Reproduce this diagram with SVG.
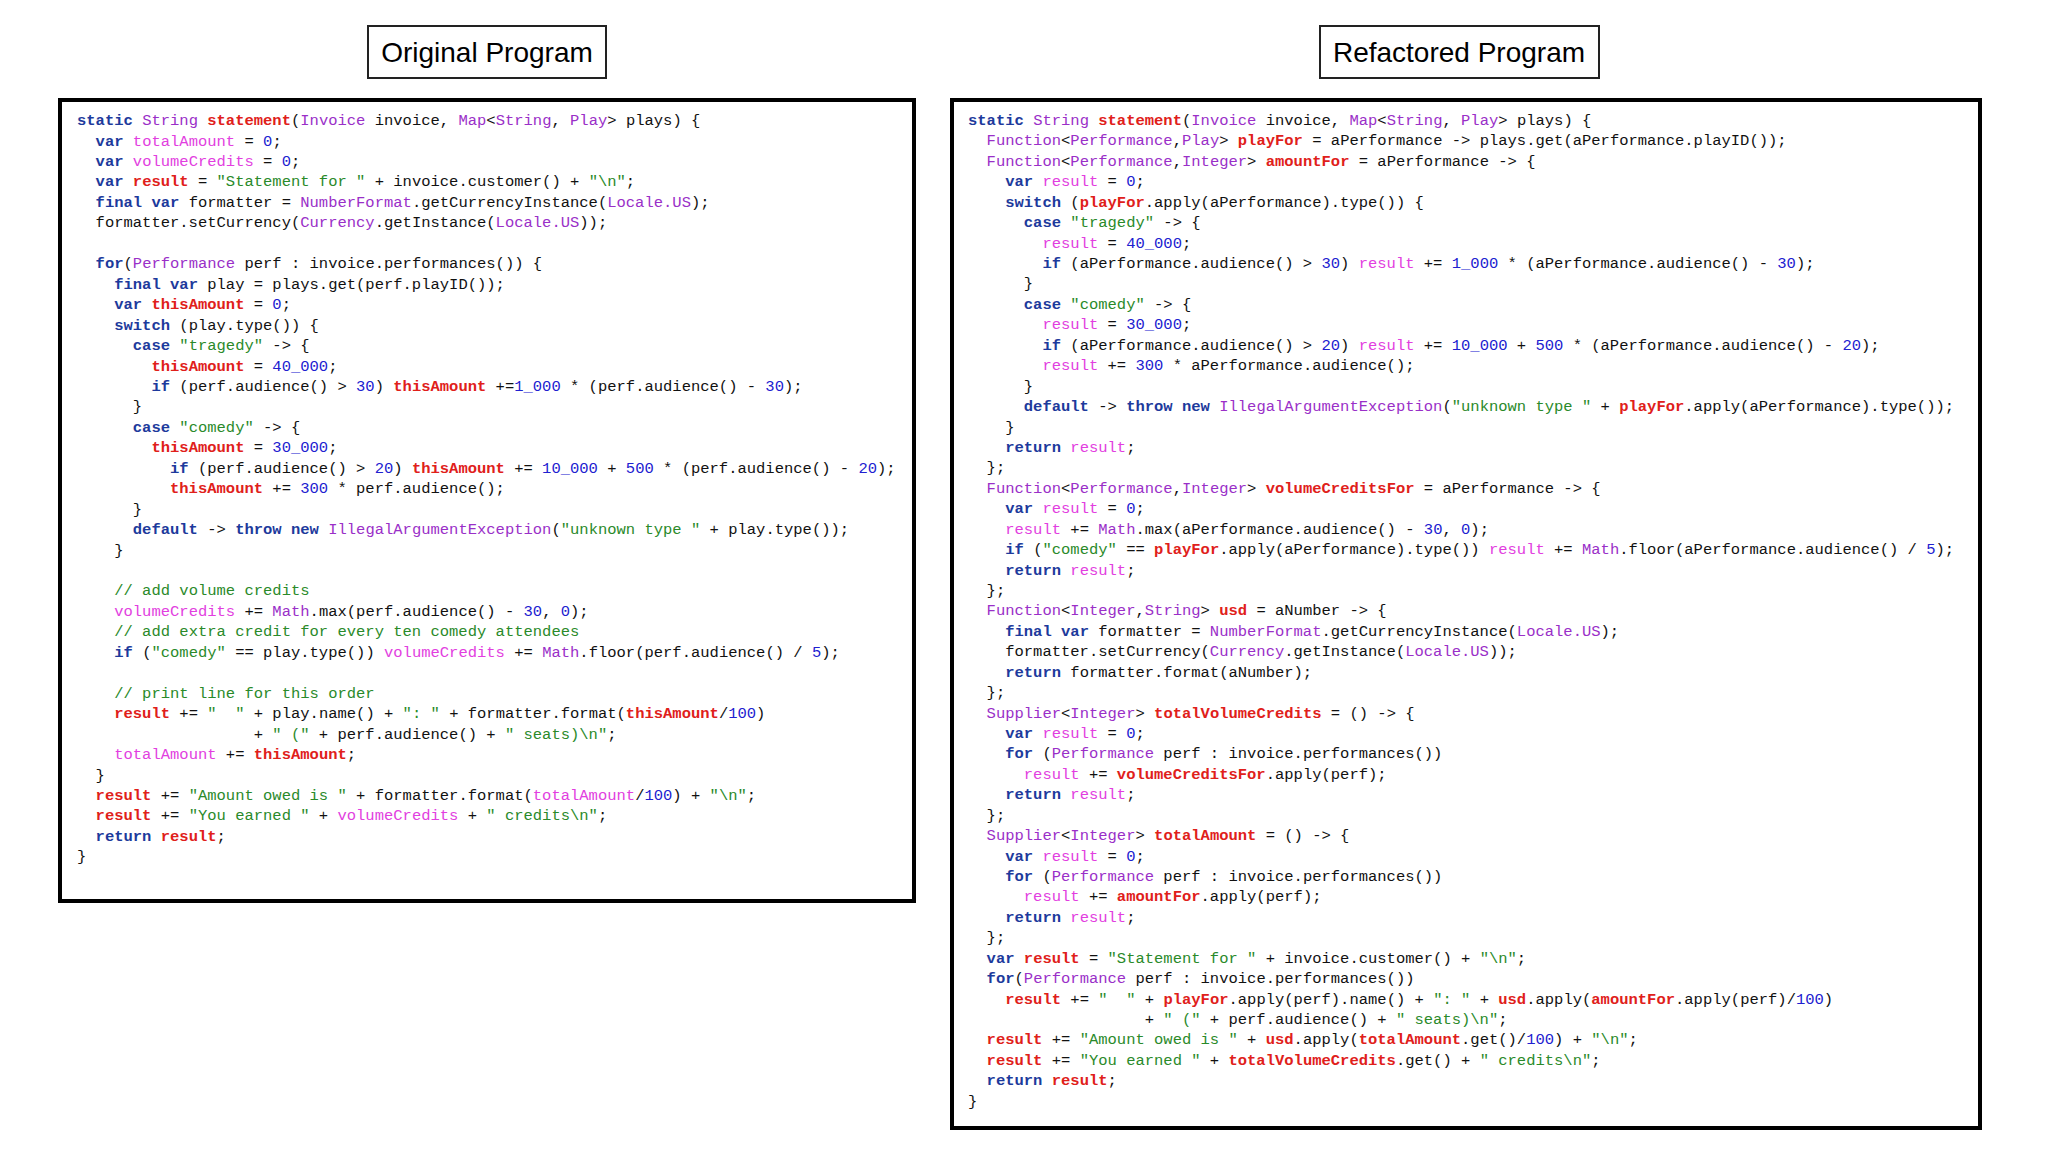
<svg xmlns="http://www.w3.org/2000/svg" width="2048" height="1152" viewBox="0 0 2048 1152">
<style>
.title{font-family:"Liberation Sans",Arial,sans-serif;font-size:28px;fill:#000;text-anchor:middle}
.tbox{fill:#fff;stroke:#222;stroke-width:2}
.cbox{fill:#fff;stroke:#000;stroke-width:4}
.code text{font-family:"Liberation Mono","DejaVu Sans Mono",monospace;font-size:15.5px;fill:#111;white-space:pre}
.k{fill:#1d3a9c;font-weight:bold}
.t{fill:#9a2fc8}
.r{fill:#e0201a;font-weight:bold}
.p{fill:#e23ee0}
.s{fill:#2a8a2a}
.n{fill:#2020d0}
.c{fill:#2a8a2a}
</style>
<rect width="2048" height="1152" fill="#fff"/>
<g id="title-original"><rect class="tbox" x="368" y="26" width="238" height="52"/><text class="title" x="487" y="62">Original Program</text></g>
<g id="title-refactored"><rect class="tbox" x="1320" y="26" width="279" height="52"/><text class="title" x="1459" y="62">Refactored Program</text></g>
<g id="original-code">
<rect class="cbox" x="60" y="100" width="854" height="801"/>
<g class="code" xml:space="preserve">
<text x="77" y="125"><tspan class="k">static</tspan> <tspan class="t">String</tspan> <tspan class="r">statement</tspan>(<tspan class="t">Invoice</tspan> invoice, <tspan class="t">Map</tspan>&lt;<tspan class="t">String</tspan>, <tspan class="t">Play</tspan>&gt; plays) {</text>
<text x="77" y="145.5">  <tspan class="k">var</tspan> <tspan class="p">totalAmount</tspan> = <tspan class="n">0</tspan>;</text>
<text x="77" y="166">  <tspan class="k">var</tspan> <tspan class="p">volumeCredits</tspan> = <tspan class="n">0</tspan>;</text>
<text x="77" y="186.4">  <tspan class="k">var</tspan> <tspan class="r">result</tspan> = <tspan class="s">"Statement for "</tspan> + invoice.customer() + <tspan class="s">"\n"</tspan>;</text>
<text x="77" y="206.8">  <tspan class="k">final var</tspan> formatter = <tspan class="t">NumberFormat</tspan>.getCurrencyInstance(<tspan class="t">Locale.US</tspan>);</text>
<text x="77" y="227.3">  formatter.setCurrency(<tspan class="t">Currency</tspan>.getInstance(<tspan class="t">Locale.US</tspan>));</text>
<text x="77" y="268.2">  <tspan class="k">for</tspan>(<tspan class="t">Performance</tspan> perf : invoice.performances()) {</text>
<text x="77" y="288.7">    <tspan class="k">final var</tspan> play = plays.get(perf.playID());</text>
<text x="77" y="309.1">    <tspan class="k">var</tspan> <tspan class="r">thisAmount</tspan> = <tspan class="n">0</tspan>;</text>
<text x="77" y="329.6">    <tspan class="k">switch</tspan> (play.type()) {</text>
<text x="77" y="350">      <tspan class="k">case</tspan> <tspan class="s">"tragedy"</tspan> -&gt; {</text>
<text x="77" y="370.5">        <tspan class="r">thisAmount</tspan> = <tspan class="n">40_000</tspan>;</text>
<text x="77" y="390.9">        <tspan class="k">if</tspan> (perf.audience() &gt; <tspan class="n">30</tspan>) <tspan class="r">thisAmount</tspan> +=<tspan class="n">1_000</tspan> * (perf.audience() - <tspan class="n">30</tspan>);</text>
<text x="77" y="411.4">      }</text>
<text x="77" y="431.8">      <tspan class="k">case</tspan> <tspan class="s">"comedy"</tspan> -&gt; {</text>
<text x="77" y="452.3">        <tspan class="r">thisAmount</tspan> = <tspan class="n">30_000</tspan>;</text>
<text x="77" y="472.7">          <tspan class="k">if</tspan> (perf.audience() &gt; <tspan class="n">20</tspan>) <tspan class="r">thisAmount</tspan> += <tspan class="n">10_000</tspan> + <tspan class="n">500</tspan> * (perf.audience() - <tspan class="n">20</tspan>);</text>
<text x="77" y="493.2">          <tspan class="r">thisAmount</tspan> += <tspan class="n">300</tspan> * perf.audience();</text>
<text x="77" y="513.6">      }</text>
<text x="77" y="534.1">      <tspan class="k">default</tspan> -&gt; <tspan class="k">throw new</tspan> <tspan class="t">IllegalArgumentException</tspan>(<tspan class="s">"unknown type "</tspan> + play.type());</text>
<text x="77" y="554.5">    }</text>
<text x="77" y="595.4">    <tspan class="c">// add volume credits</tspan></text>
<text x="77" y="615.9">    <tspan class="p">volumeCredits</tspan> += <tspan class="t">Math</tspan>.max(perf.audience() - <tspan class="n">30</tspan>, <tspan class="n">0</tspan>);</text>
<text x="77" y="636.3">    <tspan class="c">// add extra credit for every ten comedy attendees</tspan></text>
<text x="77" y="656.8">    <tspan class="k">if</tspan> (<tspan class="s">"comedy"</tspan> == play.type()) <tspan class="p">volumeCredits</tspan> += <tspan class="t">Math</tspan>.floor(perf.audience() / <tspan class="n">5</tspan>);</text>
<text x="77" y="697.7">    <tspan class="c">// print line for this order</tspan></text>
<text x="77" y="718.1">    <tspan class="r">result</tspan> += <tspan class="s">"  "</tspan> + play.name() + <tspan class="s">": "</tspan> + formatter.format(<tspan class="r">thisAmount</tspan>/<tspan class="n">100</tspan>)</text>
<text x="77" y="738.6">                   + <tspan class="s">" ("</tspan> + perf.audience() + <tspan class="s">" seats)\n"</tspan>;</text>
<text x="77" y="759">    <tspan class="p">totalAmount</tspan> += <tspan class="r">thisAmount</tspan>;</text>
<text x="77" y="779.5">  }</text>
<text x="77" y="799.9">  <tspan class="r">result</tspan> += <tspan class="s">"Amount owed is "</tspan> + formatter.format(<tspan class="p">totalAmount</tspan>/<tspan class="n">100</tspan>) + <tspan class="s">"\n"</tspan>;</text>
<text x="77" y="820.4">  <tspan class="r">result</tspan> += <tspan class="s">"You earned "</tspan> + <tspan class="p">volumeCredits</tspan> + <tspan class="s">" credits\n"</tspan>;</text>
<text x="77" y="840.8">  <tspan class="k">return</tspan> <tspan class="r">result</tspan>;</text>
<text x="77" y="861.3">}</text>
</g>
</g>
<g id="refactored-code">
<rect class="cbox" x="952" y="100" width="1028" height="1028"/>
<g class="code" xml:space="preserve">
<text x="968" y="125"><tspan class="k">static</tspan> <tspan class="t">String</tspan> <tspan class="r">statement</tspan>(<tspan class="t">Invoice</tspan> invoice, <tspan class="t">Map</tspan>&lt;<tspan class="t">String</tspan>, <tspan class="t">Play</tspan>&gt; plays) {</text>
<text x="968" y="145.4">  <tspan class="t">Function</tspan>&lt;<tspan class="t">Performance</tspan>,<tspan class="t">Play</tspan>&gt; <tspan class="r">playFor</tspan> = aPerformance -&gt; plays.get(aPerformance.playID());</text>
<text x="968" y="165.9">  <tspan class="t">Function</tspan>&lt;<tspan class="t">Performance</tspan>,<tspan class="t">Integer</tspan>&gt; <tspan class="r">amountFor</tspan> = aPerformance -&gt; {</text>
<text x="968" y="186.3">    <tspan class="k">var</tspan> <tspan class="p">result</tspan> = <tspan class="n">0</tspan>;</text>
<text x="968" y="206.7">    <tspan class="k">switch</tspan> (<tspan class="r">playFor</tspan>.apply(aPerformance).type()) {</text>
<text x="968" y="227.2">      <tspan class="k">case</tspan> <tspan class="s">"tragedy"</tspan> -&gt; {</text>
<text x="968" y="247.6">        <tspan class="p">result</tspan> = <tspan class="n">40_000</tspan>;</text>
<text x="968" y="268">        <tspan class="k">if</tspan> (aPerformance.audience() &gt; <tspan class="n">30</tspan>) <tspan class="p">result</tspan> += <tspan class="n">1_000</tspan> * (aPerformance.audience() - <tspan class="n">30</tspan>);</text>
<text x="968" y="288.4">      }</text>
<text x="968" y="308.9">      <tspan class="k">case</tspan> <tspan class="s">"comedy"</tspan> -&gt; {</text>
<text x="968" y="329.3">        <tspan class="p">result</tspan> = <tspan class="n">30_000</tspan>;</text>
<text x="968" y="349.7">        <tspan class="k">if</tspan> (aPerformance.audience() &gt; <tspan class="n">20</tspan>) <tspan class="p">result</tspan> += <tspan class="n">10_000</tspan> + <tspan class="n">500</tspan> * (aPerformance.audience() - <tspan class="n">20</tspan>);</text>
<text x="968" y="370.2">        <tspan class="p">result</tspan> += <tspan class="n">300</tspan> * aPerformance.audience();</text>
<text x="968" y="390.6">      }</text>
<text x="968" y="411">      <tspan class="k">default</tspan> -&gt; <tspan class="k">throw new</tspan> <tspan class="t">IllegalArgumentException</tspan>(<tspan class="s">"unknown type "</tspan> + <tspan class="r">playFor</tspan>.apply(aPerformance).type());</text>
<text x="968" y="431.5">    }</text>
<text x="968" y="451.9">    <tspan class="k">return</tspan> <tspan class="p">result</tspan>;</text>
<text x="968" y="472.3">  };</text>
<text x="968" y="492.7">  <tspan class="t">Function</tspan>&lt;<tspan class="t">Performance</tspan>,<tspan class="t">Integer</tspan>&gt; <tspan class="r">volumeCreditsFor</tspan> = aPerformance -&gt; {</text>
<text x="968" y="513.2">    <tspan class="k">var</tspan> <tspan class="p">result</tspan> = <tspan class="n">0</tspan>;</text>
<text x="968" y="533.6">    <tspan class="p">result</tspan> += <tspan class="t">Math</tspan>.max(aPerformance.audience() - <tspan class="n">30</tspan>, <tspan class="n">0</tspan>);</text>
<text x="968" y="554">    <tspan class="k">if</tspan> (<tspan class="s">"comedy"</tspan> == <tspan class="r">playFor</tspan>.apply(aPerformance).type()) <tspan class="p">result</tspan> += <tspan class="t">Math</tspan>.floor(aPerformance.audience() / <tspan class="n">5</tspan>);</text>
<text x="968" y="574.5">    <tspan class="k">return</tspan> <tspan class="p">result</tspan>;</text>
<text x="968" y="594.9">  };</text>
<text x="968" y="615.3">  <tspan class="t">Function</tspan>&lt;<tspan class="t">Integer</tspan>,<tspan class="t">String</tspan>&gt; <tspan class="r">usd</tspan> = aNumber -&gt; {</text>
<text x="968" y="635.8">    <tspan class="k">final var</tspan> formatter = <tspan class="t">NumberFormat</tspan>.getCurrencyInstance(<tspan class="t">Locale.US</tspan>);</text>
<text x="968" y="656.2">    formatter.setCurrency(<tspan class="t">Currency</tspan>.getInstance(<tspan class="t">Locale.US</tspan>));</text>
<text x="968" y="676.6">    <tspan class="k">return</tspan> formatter.format(aNumber);</text>
<text x="968" y="697">  };</text>
<text x="968" y="717.5">  <tspan class="t">Supplier</tspan>&lt;<tspan class="t">Integer</tspan>&gt; <tspan class="r">totalVolumeCredits</tspan> = () -&gt; {</text>
<text x="968" y="737.9">    <tspan class="k">var</tspan> <tspan class="p">result</tspan> = <tspan class="n">0</tspan>;</text>
<text x="968" y="758.3">    <tspan class="k">for</tspan> (<tspan class="t">Performance</tspan> perf : invoice.performances())</text>
<text x="968" y="778.8">      <tspan class="p">result</tspan> += <tspan class="r">volumeCreditsFor</tspan>.apply(perf);</text>
<text x="968" y="799.2">    <tspan class="k">return</tspan> <tspan class="p">result</tspan>;</text>
<text x="968" y="819.6">  };</text>
<text x="968" y="840.1">  <tspan class="t">Supplier</tspan>&lt;<tspan class="t">Integer</tspan>&gt; <tspan class="r">totalAmount</tspan> = () -&gt; {</text>
<text x="968" y="860.5">    <tspan class="k">var</tspan> <tspan class="p">result</tspan> = <tspan class="n">0</tspan>;</text>
<text x="968" y="880.9">    <tspan class="k">for</tspan> (<tspan class="t">Performance</tspan> perf : invoice.performances())</text>
<text x="968" y="901.3">      <tspan class="p">result</tspan> += <tspan class="r">amountFor</tspan>.apply(perf);</text>
<text x="968" y="921.8">    <tspan class="k">return</tspan> <tspan class="p">result</tspan>;</text>
<text x="968" y="942.2">  };</text>
<text x="968" y="962.6">  <tspan class="k">var</tspan> <tspan class="r">result</tspan> = <tspan class="s">"Statement for "</tspan> + invoice.customer() + <tspan class="s">"\n"</tspan>;</text>
<text x="968" y="983.1">  <tspan class="k">for</tspan>(<tspan class="t">Performance</tspan> perf : invoice.performances())</text>
<text x="968" y="1003.5">    <tspan class="r">result</tspan> += <tspan class="s">"  "</tspan> + <tspan class="r">playFor</tspan>.apply(perf).name() + <tspan class="s">": "</tspan> + <tspan class="r">usd</tspan>.apply(<tspan class="r">amountFor</tspan>.apply(perf)/<tspan class="n">100</tspan>)</text>
<text x="968" y="1023.9">                   + <tspan class="s">" ("</tspan> + perf.audience() + <tspan class="s">" seats)\n"</tspan>;</text>
<text x="968" y="1044.4">  <tspan class="r">result</tspan> += <tspan class="s">"Amount owed is "</tspan> + <tspan class="r">usd</tspan>.apply(<tspan class="r">totalAmount</tspan>.get()/<tspan class="n">100</tspan>) + <tspan class="s">"\n"</tspan>;</text>
<text x="968" y="1064.8">  <tspan class="r">result</tspan> += <tspan class="s">"You earned "</tspan> + <tspan class="r">totalVolumeCredits</tspan>.get() + <tspan class="s">" credits\n"</tspan>;</text>
<text x="968" y="1085.2">  <tspan class="k">return</tspan> <tspan class="r">result</tspan>;</text>
<text x="968" y="1105.7">}</text>
</g>
</g>
</svg>
